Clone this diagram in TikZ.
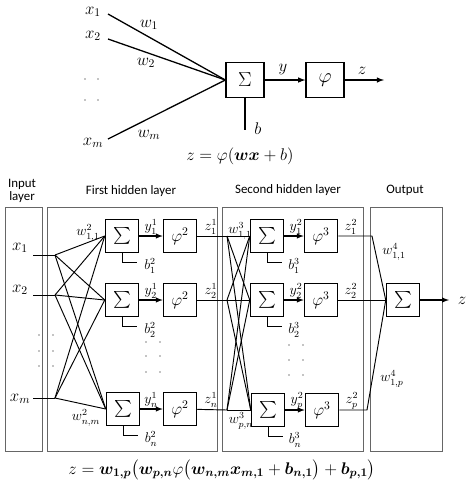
\documentclass[tikz,border=0pt]{standalone}
\usepackage{amsmath,amssymb}
\usepackage{bm}
\usepackage{fontspec}
\newfontfamily\titlefont{Carlito}
\usepackage{tikz}
\usetikzlibrary{arrows}
\usetikzlibrary{positioning}

\begin{document}
\begin{tikzpicture}[x=0.03cm,y=-0.03cm,
    sumbox/.style={draw,line width=1pt,minimum width=1cm,minimum height=1cm,inner sep=0pt,font=\Large},
    topbox/.style={draw,line width=1.1pt,minimum width=1.14cm,minimum height=1.05cm,inner sep=0pt,font=\LARGE},
    layerbox/.style={draw=black!60,semithick},
    ttl/.style={font=\titlefont\fontsize{11}{11}\selectfont,align=center},
    lbl/.style={inner sep=0pt,font=\large}]
  \useasboundingbox (0,0) rectangle (474,493);

  % single neuron
  \node[topbox] (S) at (245,80) {$\Sigma$};
  \node[topbox] (P) at (325,80) {$\varphi$};
  \coordinate (a1) at (108,14);
  \coordinate (a2) at (108,39);
  \coordinate (am) at (108,139);
  \coordinate (zt) at (384,80);
  \coordinate (bt) at (245,130);
  \node[lbl,font=\Large] (x1t) at (93,12) {$x_1$};
  \node[lbl,font=\Large] (x2t) at (93,36) {$x_2$};
  \node[lbl,font=\Large] (xmt) at (93,143) {$x_m$};
  \draw[line width=1.1pt] (a1) -- (S.west);
  \draw[line width=1.1pt] (a2) -- (S.west);
  \draw[line width=1.1pt] (am) -- (S.west);
  \draw[line width=1.1pt,-latex] (S) -- (P);
  \draw[line width=1.1pt,-latex] (P) -- (zt);
  \draw[line width=1.1pt] (S.south) -- (bt);
  \node[lbl,font=\Large] (w1t) at (149,25) {$w_1$};
  \node[lbl,font=\Large] (w2t) at (146,63) {$w_2$};
  \node[lbl,font=\Large] (wmt) at (149,135) {$w_m$};
  \node[lbl,font=\Large] (yt) at (283,70) {$y$};
  \node[lbl,font=\Large] (ztl) at (362,71) {$z$};
  \node[lbl,font=\Large] (btl) at (258,129) {$b$};
  \foreach \px/\py in {85/79,98/79,85/100,98/100}
    \fill (\px,\py) circle[radius=0.6pt];
  \node[lbl,font=\Large] (ft) at (240,156) {$z=\varphi(\bm{wx}+b)$};

  % layer frames
  \draw[layerbox] (5,207) rectangle (42,451);
  \draw[layerbox] (47,207) rectangle (217,451);
  \draw[layerbox] (222,207) rectangle (363,451);
  \draw[layerbox] (370,207) rectangle (442,451);
  \node[ttl] (tin) at (22,191) {Input\\layer};
  \node[ttl] (th1) at (131,191) {First hidden layer};
  \node[ttl] (th2) at (288,190) {Second hidden layer};
  \node[ttl] (tout) at (405,190) {Output};

  % input layer
  \coordinate (s1) at (33,255);
  \coordinate (s2) at (33,295);
  \coordinate (sm) at (33,398);
  \coordinate (i1) at (55,255);
  \coordinate (i2) at (55,295);
  \coordinate (im) at (55,398);
  \node[lbl,font=\Large] (x1) at (20,248) {$x_1$};
  \node[lbl,font=\Large] (x2) at (20,290) {$x_2$};
  \node[lbl,font=\Large] (xm) at (20,399) {$x_m$};
  \draw[thick] (s1) -- (i1);
  \draw[thick] (s2) -- (i2);
  \draw[thick] (sm) -- (im);
  \foreach \py in {335,351,366}{
    \fill (39,\py) circle[radius=0.5pt];
    \fill (53,\py) circle[radius=0.5pt];
  }

  % first hidden layer
  \node[sumbox] (Sa) at (122,236) {$\sum$};
  \node[sumbox] (Sb) at (122,300) {$\sum$};
  \node[sumbox] (Sn) at (123,409) {$\sum$};
  \node[sumbox] (Pa) at (180,236) {$\varphi^2$};
  \node[sumbox] (Pb) at (180,300) {$\varphi^2$};
  \node[sumbox] (Pn) at (180,409) {$\varphi^2$};
  \draw[thick] (i1) -- (Sa.west);
  \draw[thick] (i1) -- (Sb.west);
  \draw[thick] (i1) -- (Sn.west);
  \draw[thick] (i2) -- (Sa.west);
  \draw[thick] (i2) -- (Sb.west);
  \draw[thick] (i2) -- (Sn.west);
  \draw[thick] (im) -- (Sa.west);
  \draw[thick] (im) -- (Sb.west);
  \draw[thick] (im) -- (Sn.west);
  \draw[line width=1pt,-latex] (Sa) -- (Pa);
  \draw[line width=1pt,-latex] (Sb) -- (Pb);
  \draw[line width=1pt,-latex] (Sn) -- (Pn);
  \draw[thick] (Sa.south) |- ++(15,9);
  \draw[thick] (Sb.south) |- ++(15,9);
  \draw[thick] (Sn.south) |- ++(15,9);
  \node[lbl] (ba) at (150,266) {$b_1^2$};
  \node[lbl] (bb) at (150,330) {$b_2^2$};
  \node[lbl] (bn) at (151,439) {$b_n^2$};
  \node[lbl] (ya) at (151,227) {$y_1^1$};
  \node[lbl] (yb) at (151,291) {$y_2^1$};
  \node[lbl] (yn) at (151,400) {$y_n^1$};
  \node[lbl] (w2a) at (88,233) {$w_{1,1}^2$};
  \node[lbl] (w2n) at (86,418) {$w_{n,m}^2$};
  \foreach \py in {342,356,372}{
    \fill (146,\py) circle[radius=0.5pt];
    \fill (160,\py) circle[radius=0.5pt];
  }

  % second hidden layer
  \coordinate (j1) at (227,236);
  \coordinate (j2) at (227,300);
  \coordinate (jn) at (227,410);
  \node[sumbox] (Ta) at (267,236) {$\sum$};
  \node[sumbox] (Tb) at (267,300) {$\sum$};
  \node[sumbox] (Tp) at (268,410) {$\sum$};
  \node[sumbox] (Qa) at (321,236) {$\varphi^3$};
  \node[sumbox] (Qb) at (321,300) {$\varphi^3$};
  \node[sumbox] (Qp) at (322,410) {$\varphi^3$};
  \draw[thick] (Pa) -- (j1);
  \draw[thick] (Pb) -- (j2);
  \draw[thick] (Pn) -- (jn);
  \draw[thick] (j1) -- (Ta.west);
  \draw[thick] (j1) -- (Tb.west);
  \draw[thick] (j1) -- (Tp.west);
  \draw[thick] (j2) -- (Ta.west);
  \draw[thick] (j2) -- (Tb.west);
  \draw[thick] (j2) -- (Tp.west);
  \draw[thick] (jn) -- (Ta.west);
  \draw[thick] (jn) -- (Tb.west);
  \draw[thick] (jn) -- (Tp.west);
  \draw[line width=1pt,-latex] (Ta) -- (Qa);
  \draw[line width=1pt,-latex] (Tb) -- (Qb);
  \draw[line width=1pt,-latex] (Tp) -- (Qp);
  \draw[thick] (Ta.south) |- ++(15,9);
  \draw[thick] (Tb.south) |- ++(15,9);
  \draw[thick] (Tp.south) |- ++(15,9);
  \node[lbl] (za) at (211,227) {$z_1^1$};
  \node[lbl] (zb) at (211,291) {$z_2^1$};
  \node[lbl] (zn) at (211,400) {$z_n^1$};
  \node[lbl] (b3a) at (294,266) {$b_1^3$};
  \node[lbl] (b3b) at (294,330) {$b_2^3$};
  \node[lbl] (b3p) at (295,440) {$b_n^3$};
  \node[lbl] (y2a) at (296,227) {$y_1^2$};
  \node[lbl] (y2b) at (296,291) {$y_2^2$};
  \node[lbl] (y2p) at (297,401) {$y_p^2$};
  \node[lbl] (w3a) at (240,231) {$w_{1,1}^3$};
  \node[lbl] (w3p) at (241,421) {$w_{p,n}^3$};
  \foreach \py in {345,360,375}{
    \fill (289,\py) circle[radius=0.5pt];
    \fill (303,\py) circle[radius=0.5pt];
  }

  % output layer
  \coordinate (k1) at (372,236);
  \coordinate (kp) at (367,410);
  \coordinate (zo) at (449,300);
  \node[sumbox] (O) at (403,300) {$\sum$};
  \draw[thick] (Qa) -- (k1) -- (O.west);
  \draw[thick] (Qb) -- (O.west);
  \draw[thick] (Qp) -- (kp) -- (O.west);
  \draw[line width=1pt,-latex] (O) -- (zo);
  \node[lbl] (z2a) at (351,227) {$z_1^2$};
  \node[lbl] (z2b) at (351,291) {$z_2^2$};
  \node[lbl] (z2p) at (352,401) {$z_p^2$};
  \node[lbl] (w4a) at (394,252) {$w_{1,1}^4$};
  \node[lbl] (w4p) at (392,379) {$w_{1,p}^4$};
  \node[lbl,font=\Large] (zout) at (462,301) {$z$};

  \node[lbl,font=\Large] (fb) at (222,470)
    {$z=\bm{w_{1,p}}\bigl(\bm{w_{p,n}}\varphi\bigl(\bm{w_{n,m}x_{m,1}}+\bm{b_{n,1}}\bigr)+\bm{b_{p,1}}\bigr)$};
\end{tikzpicture}
\end{document}
